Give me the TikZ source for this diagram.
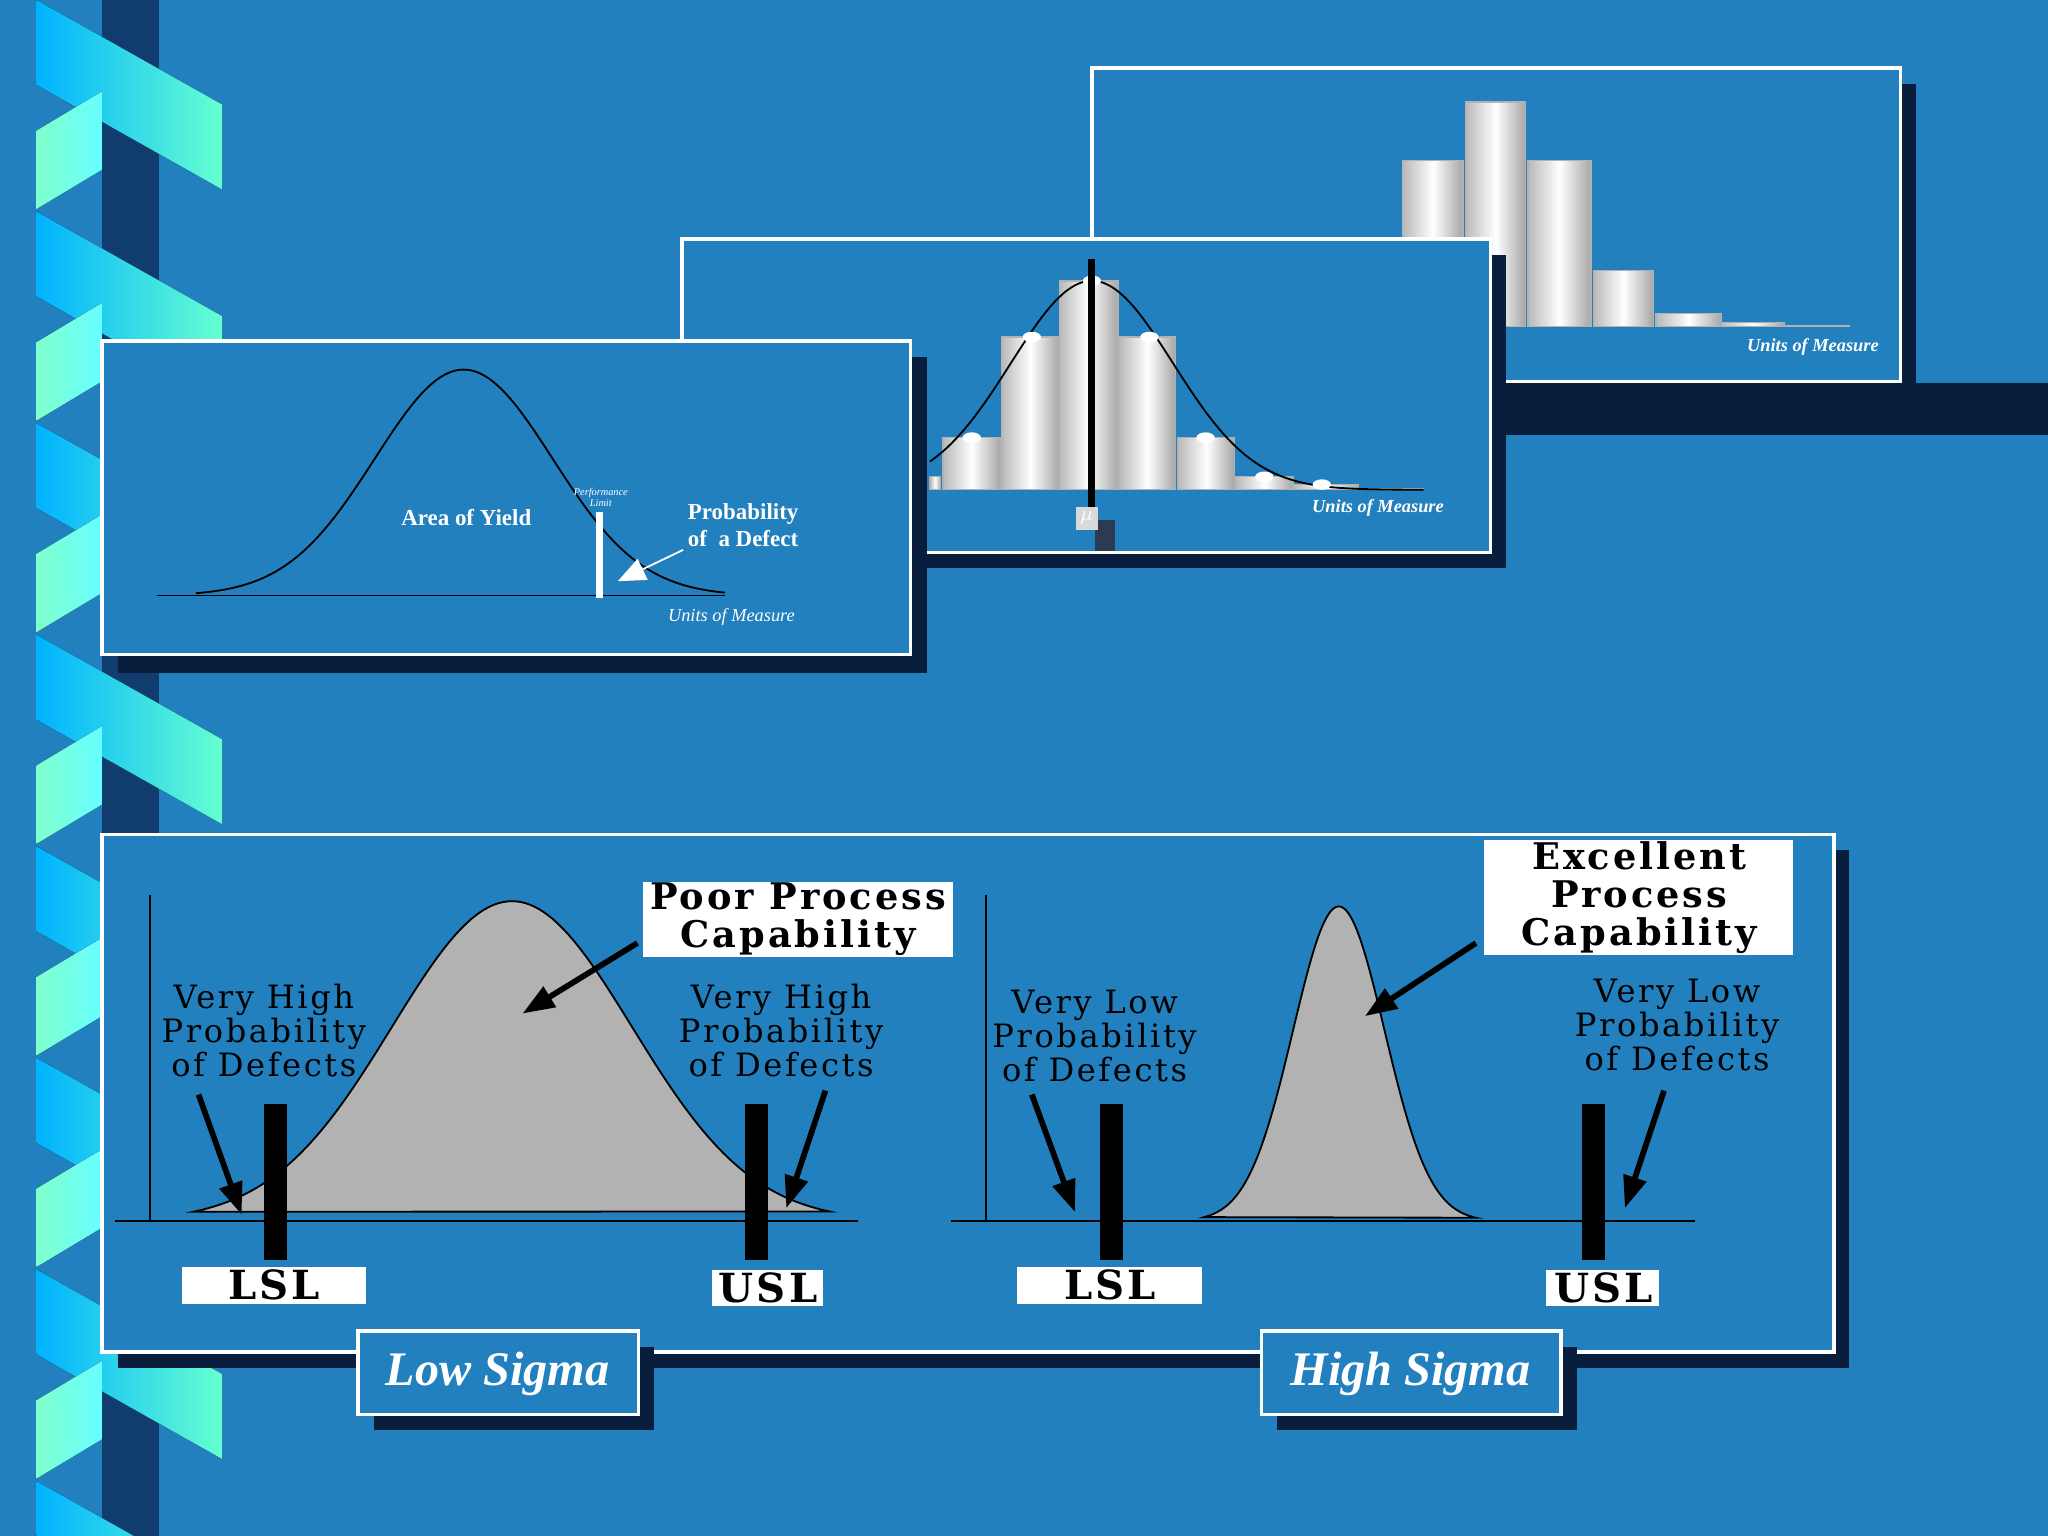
\documentclass[tikz,border=0pt]{standalone}
\usepackage{fontspec}
\setmainfont{Liberation Serif}
\newfontfamily\wide[LetterSpace=8]{DejaVu Serif}
\usetikzlibrary{arrows.meta}
\definecolor{bg}{RGB}{34,128,190}
\definecolor{shad}{RGB}{8,30,60}
\definecolor{pole}{RGB}{16,60,110}
\tikzset{
 panel/.style={draw=white,line width=1.5pt,fill=bg},
 shadowbox/.style={fill=shad},
 bar/.style={draw=gray!60,line width=0.6pt,left color=gray!55,right color=gray!70,middle color=white},
 bigtxt/.style={font=\wide\bfseries\fontsize{16}{16.5}\selectfont,align=center,inner sep=0pt},
 lbl/.style={font=\wide\bfseries\fontsize{17.5}{17.5}\selectfont,inner sep=0pt},
 medtxt/.style={font=\wide\fontsize{14}{13.2}\selectfont,align=center,inner sep=0pt},
 um/.style={font=\itshape\fontsize{8}{8}\selectfont,text=white},
 blk/.style={-{Triangle[length=14pt,width=10pt]},line width=2.5pt},
 sig/.style={text=white,font=\bfseries\itshape\fontsize{21}{21}\selectfont},
}
\begin{document}
\begin{tikzpicture}[x=0.02cm,y=-0.02cm]
\fill[bg] (0,0) rectangle (1568,1176);
\useasboundingbox (0,0) rectangle (1568,1176);
% left ribbon
\fill[pole] (78,0) rectangle (122,1176);
\foreach \k in {0,...,7}{
 \pgfmathsetmacro{\yy}{\k*162-30}
 \fill[left color=cyan!70!blue,right color=green!30!cyan!60] (28,\yy+30) -- (28,\yy+95) -- (170,\yy+175) -- (170,\yy+110) -- cycle;
 \fill[left color=green!40!cyan!50,right color=cyan!60] (28,\yy+130) -- (78,\yy+100) -- (78,\yy+160) -- (28,\yy+190) -- cycle;
}
% dark band right
\fill[shad] (1150,293) rectangle (1568,333);
% panel 3
\fill[shadowbox] (848,64) rectangle (1467,304);
\draw[panel] (836,52) rectangle (1455,292);
\foreach \a/\b/\t in {1074/1120/123,1122/1168/78,1170/1218/123,1220/1266/207,1268/1318/240,1318/1366/247,1366/1416/249}
 \draw[bar] (\a,250) rectangle (\b,\t);
\node[um] (u3) at (1388,266) {\bfseries Units of Measure};
% panel 2
\fill[shadowbox] (534,195) rectangle (1153,435);
\draw[panel] (522,183) rectangle (1141,423);
\foreach \a/\b/\t in {712/720/365,722/766/335,767/811/258,811/856/215,857/900/258,902/945/335,946/990/365,990/1040/371,1040/1090/374}
 \draw[bar] (\a,375) rectangle (\b,\t);
\draw[thick] plot[domain=712:1090,samples=120] (\x,{375-160*exp(-((\x-836)/62)^2/2)});
\foreach \p/\q in {744/335,790/258,836/215,880/258,923/335,968/365,1012/371} \fill[white] (\p,\q) ellipse (7 and 4);
\draw[line width=3pt] (836,198) -- (836,400);
\fill[shad!70!gray] (838,398) rectangle (854,422);
\node[fill=gray!30,text=white,inner sep=2pt,font=\small] (mu) at (832,397) {$\mu$};
\node[um] (u2) at (1055,389) {\bfseries Units of Measure};
% panel 1
\fill[shadowbox] (90,273) rectangle (710,515);
\draw[panel] (78,261) rectangle (697,501);
\draw (120,456) -- (555,456);
\draw[thick] plot[domain=150:555,samples=120] (\x,{456-173*exp(-((\x-355)/68)^2/2)});
\node[text=white,font=\bfseries\fontsize{10}{10}\selectfont] (ay) at (357,396) {Area of Yield};
\node[text=white,font=\itshape\fontsize{4.5}{5}\selectfont,align=center] (pl) at (460,381) {Performance\\Limit};
\draw[white,line width=3pt] (459,392) -- (459,458);
\node[text=white,font=\bfseries\fontsize{10}{11.5}\selectfont,align=left] (pd) at (569,402) {Probability\\of \ a Defect};
\coordinate (pa) at (523,421);
\draw[white,thick,-{Triangle[open,fill=white,length=12pt,width=10pt]}] (pa) -- (473,445);
\node[um] (u1) at (560,472) {Units of Measure};
% bottom panel
\fill[shadowbox] (90,651) rectangle (1416,1047);
\draw[panel] (78,639) rectangle (1404,1035);
% left chart
\draw[thick] (115,685) -- (115,935);
\fill[gray!60,draw=black,thick] plot[domain=148:635,samples=150] (\x,{935-245*exp(-((\x-392)/92)^2/2)}) -- cycle;
\draw[thick] (88,935) -- (657,935);
\draw[line width=10pt] (211,845) -- (211,965);
\draw[line width=10pt] (579,845) -- (579,965);
\fill[white] (139,970) rectangle (280,998);
\node[lbl] (lsl1) at (210,984) {LSL};
\fill[white] (545,972) rectangle (630,1000);
\node[lbl] (usl1) at (588,986) {USL};
\fill[white] (492,675) rectangle (730,733);
\node[bigtxt] (poor) at (611,704) {Poor Process\\Capability};
\draw[blk] (488,722) -- (400,776);
\node[medtxt] (vh1) at (202,789) {Very High\\Probability\\of Defects};
\node[medtxt] (vh2) at (598,789) {Very High\\Probability\\of Defects};
\draw[blk] (152,838) -- (185,930);
\draw[blk] (632,835) -- (602,925);
% right chart
\draw[thick] (755,685) -- (755,935);
\fill[gray!60,draw=black,thick] plot[domain=922:1130,samples=120] (\x,{935-241*exp(-((\x-1025)/35)^2/2)}) -- cycle;
\draw[thick] (728,935) -- (1298,935);
\draw[line width=10pt] (851,845) -- (851,965);
\draw[line width=10pt] (1220,845) -- (1220,965);
\fill[white] (779,970) rectangle (920,998);
\node[lbl] (lsl2) at (850,984) {LSL};
\fill[white] (1184,972) rectangle (1270,1000);
\node[lbl] (usl2) at (1228,986) {USL};
\fill[white] (1136,643) rectangle (1373,731);
\node[bigtxt] (exc) at (1255,687) {Excellent\\Process\\Capability};
\draw[blk] (1130,722) -- (1045,778);
\node[medtxt] (vl1) at (838,793) {Very Low\\Probability\\of Defects};
\node[medtxt] (vl2) at (1284,785) {Very Low\\Probability\\of Defects};
\draw[blk] (790,838) -- (823,928);
\draw[blk] (1274,835) -- (1244,925);
% sigma labels
\fill[shadowbox] (286,1031) rectangle (501,1095);
\draw[panel] (274,1019) rectangle (489,1083);
\node[sig] (ls) at (381,1052) {Low Sigma};
\fill[shadowbox] (978,1031) rectangle (1207,1095);
\draw[panel] (966,1019) rectangle (1195,1083);
\node[sig] (hs) at (1080,1052) {High Sigma};
\end{tikzpicture}
\end{document}
